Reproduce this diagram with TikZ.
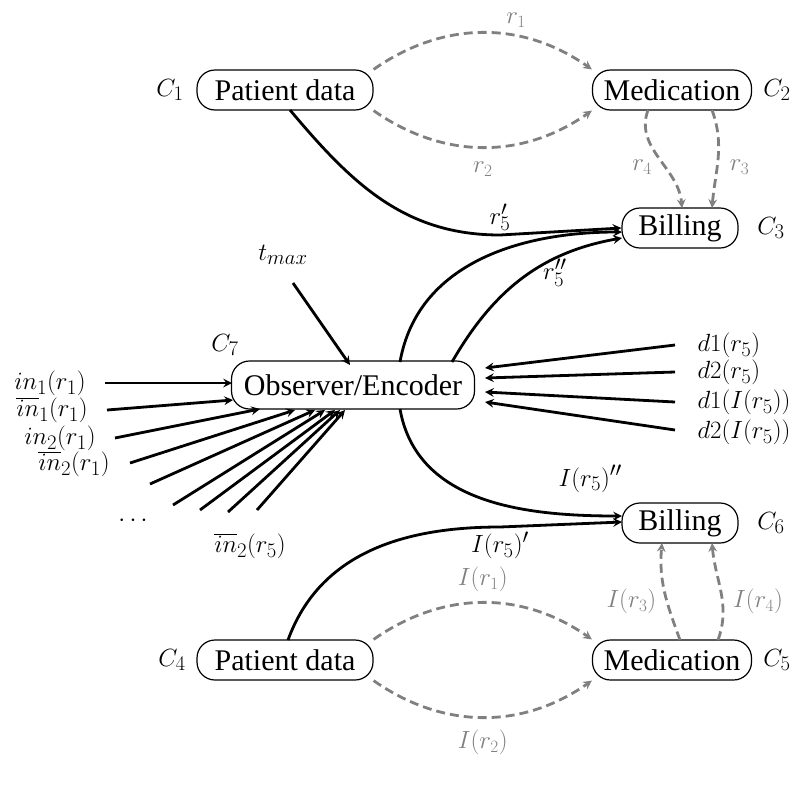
\documentclass[tikz,border=0pt]{standalone}
\usepackage{fontspec}
\setmainfont{Liberation Serif}
\begin{document}
\begin{tikzpicture}[x=1pt,y=-1pt,
  box/.style={draw,line width=1.2pt,rounded corners=18pt,minimum height=40pt,inner xsep=3pt,inner ysep=2pt,font=\fontsize{30}{33}\selectfont},
  lab/.style={font=\fontsize{29}{32}\selectfont},
  glab/.style={font=\fontsize{27}{30}\selectfont,text=gray},
  blk/.style={->,line width=2.8pt,>=stealth},
  gd/.style={->,dash pattern=on 9pt off 5pt,line width=2.8pt,gray,>=stealth}]
\useasboundingbox (0,0) rectangle (811,785);
\node[box,minimum width=176pt] (c1) at (285,90) {Patient data};
\node[box,minimum width=159pt] (c2) at (672,90) {Medication};
\node[box,minimum width=116pt] (c3) at (680,228) {Billing};
\node[box,minimum width=116pt] (c6) at (680,523) {Billing};
\node[box,minimum width=176pt] (c4) at (285,660) {Patient data};
\node[box,minimum width=159pt] (c5) at (672,660) {Medication};
\node[box,minimum width=243pt,minimum height=48pt] (c7) at (353,385) {Observer/Encoder};
\node[lab] at (170,90) {$C_1$};
\node[lab] at (777,90) {$C_2$};
\node[lab] at (771,228) {$C_3$};
\node[lab] at (771,523) {$C_6$};
\node[lab] at (172,660) {$C_4$};
\node[lab] at (777,660) {$C_5$};
\node[lab] at (225,345) {$C_7$};
% gray dashed
\draw[gd] (c1.north east) to[out=35,in=145] node[glab,pos=0.65,above=4pt]{$r_1$} (c2.north west);
\draw[gd] (c1.south east) to[out=-35,in=-145] node[glab,pos=0.5,below=10pt]{$r_2$} (c2.south west);
\draw[gd] (648,110) to[out=-110,in=95] node[glab,pos=0.6,left=8pt]{$r_4$} (682,208);
\draw[gd] (712,110) to[out=-70,in=85] node[glab,pos=0.6,right=8pt]{$r_3$} (712,208);
\draw[gd] (c4.north east) to[out=35,in=145] node[glab,pos=0.5,above=6pt]{$I(r_1)$} (c5.north west);
\draw[gd] (c4.south east) to[out=-35,in=-145] node[glab,pos=0.5,below=8pt]{$I(r_2)$} (c5.south west);
\draw[gd] (680,640) to[out=110,in=-95] node[glab,pos=0.4,left=6pt]{$I(r_3)$} (662,543);
\draw[gd] (718,640) to[out=70,in=-85] node[glab,pos=0.4,right=6pt]{$I(r_4)$} (712,543);
% black curves
\coordinate (m1) at (500,235);
\draw[blk] (290,110) to[out=-50,in=180] (m1) node[lab,above=0pt]{$r_5'$} -- (c3.west);
\draw[blk] (400,362) to[out=80,in=180] (622,232);
\draw[blk] (452,362) to[out=60,in=190] node[lab,pos=0.55,right=8pt]{$r_5''$} (622,238);
\draw[blk] (400,409) to[out=-80,in=180] node[lab,pos=0.85,above=18pt,xshift=12pt]{$I(r_5)''$} (622,516);
\coordinate (m2) at (500,527);
\draw[blk] (288,640) to[out=70,in=180] (m2) node[lab,below=0pt]{$I(r_5)'$} -- (622,522);
% t_max
\node[lab] (tm) at (283,255) {$t_{max}$};
\draw[blk] (293,283) -- (350,365);
% right inputs
\node[lab,anchor=west] (d1) at (694,345) {$d1(r_5)$};
\node[lab,anchor=west] (d2) at (694,372) {$d2(r_5)$};
\node[lab,anchor=west] (d3) at (694,402) {$d1(I(r_5))$};
\node[lab,anchor=west] (d4) at (694,432) {$d2(I(r_5))$};
\draw[blk] (675,345) -- (485,368);
\draw[blk] (675,372) -- (485,378);
\draw[blk] (675,402) -- (485,392);
\draw[blk] (675,430) -- (485,402);
% left inputs
\node[lab,anchor=east,inner xsep=0pt] at (86,383) {$in_1(r_1)$};
\node[lab,anchor=east,inner xsep=0pt] at (88,410) {$\overline{in}_1(r_1)$};
\node[lab,anchor=east,inner xsep=0pt] at (96,438) {$in_2(r_1)$};
\node[lab,anchor=east,inner xsep=0pt] at (110,464) {$\overline{in}_2(r_1)$};
\node[lab] at (133,521) {$\cdots$};
\node[lab] at (250,546) {$\overline{in}_2(r_5)$};
\draw[blk] (105,383) -- (232,383);
\draw[blk] (107,410) -- (233,400);
\draw[blk] (115,438) -- (260,409);
\draw[blk] (130,463) -- (295,410);
\draw[blk] (150,484) -- (315,410);
\draw[blk] (173,505) -- (325,410);
\draw[blk] (200,510) -- (335,410);
\draw[blk] (228,512) -- (340,410);
\draw[blk] (257,510) -- (345,410);
\end{tikzpicture}
\end{document}
